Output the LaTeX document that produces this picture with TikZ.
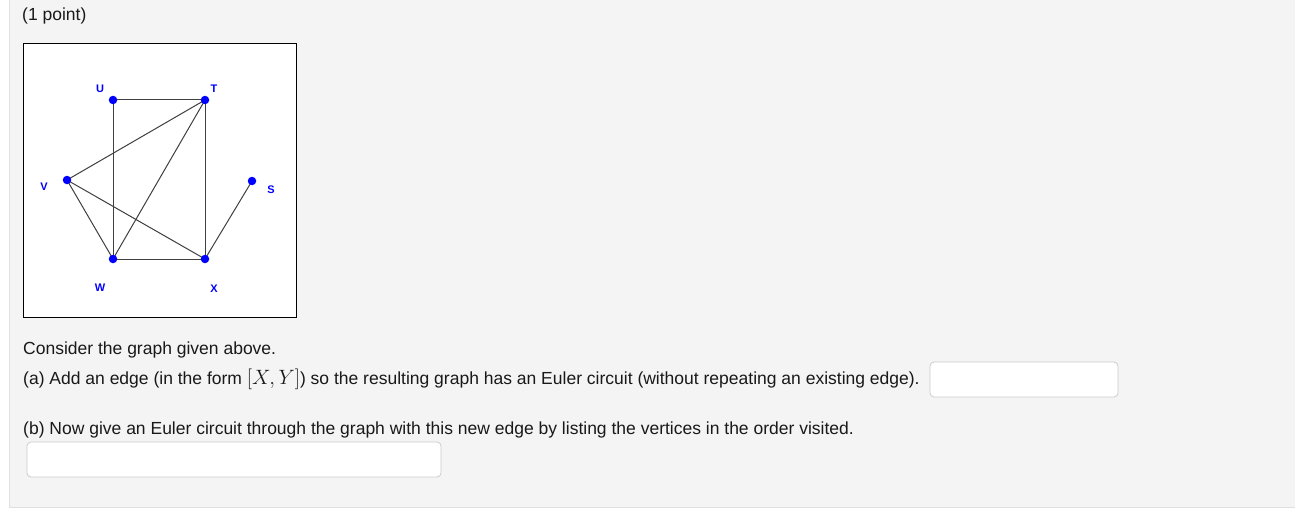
\documentclass[tikz,border=0pt]{standalone}
\usepackage{fontspec}
\setmainfont{Liberation Sans}
\begin{document}
\begin{tikzpicture}[x=1pt,y=-1pt,
  vtx/.style={circle,fill=blue,inner sep=0pt,minimum size=8.5pt},
  vlab/.style={text=blue,font=\fontsize{11}{12}\selectfont\bfseries,inner sep=0pt},
  edge/.style={draw=black!75,line width=1pt},
  txt/.style={anchor=base west,inner sep=0pt,font=\fontsize{17.5}{20}\selectfont,text=black!90},
  inbox/.style={draw=black!20,fill=white,rounded corners=4pt,line width=0.8pt}]
\useasboundingbox (0,0) rectangle (1295,516);
\fill[white] (0,0) rectangle (1295,516);
\fill[fill={rgb,255:red,244;green,244;blue,244}] (9,-2) rectangle (1297,507);
\draw[draw={rgb,255:red,224;green,224;blue,224},line width=0.8pt] (9,-2) -- (9,507) -- (1297,507);
% title
\node[txt] (pt) at (22,21) {(1 point)};
% graph frame
\draw[fill=white,draw=black,line width=1pt] (23.5,43.5) rectangle (296,317);
\coordinate (U) at (113,100);
\coordinate (T) at (205,100);
\coordinate (V) at (67,180);
\coordinate (S) at (252,181);
\coordinate (W) at (113,259);
\coordinate (X) at (205,259);
\draw[edge] (U) -- (T);
\draw[edge] (U) -- (W);
\draw[edge] (T) -- (X);
\draw[edge] (W) -- (X);
\draw[edge] (V) -- (T);
\draw[edge] (W) -- (T);
\draw[edge] (V) -- (W);
\draw[edge] (V) -- (X);
\draw[edge] (S) -- (X);
\foreach \n in {U,T,V,S,W,X}
  \node[vtx] (d\n) at (\n) {};
\node[vlab] (lU) at (100,89) {U};
\node[vlab] (lT) at (214,89) {T};
\node[vlab] (lV) at (44,187) {V};
\node[vlab] (lS) at (271,190) {S};
\node[vlab] (lW) at (100,288) {W};
\node[vlab] (lX) at (214,289) {X};
% text
\node[txt] (t1) at (23,354) {Consider the graph given above.};
\node[txt] (t2) at (23,384) {(a) Add an edge (in the form {\fontsize{20}{22}\selectfont$[X,Y]$}) so the resulting graph has an Euler circuit (without repeating an existing edge).};
\node[txt] (t3) at (23,434) {(b) Now give an Euler circuit through the graph with this new edge by listing the vertices in the order visited.};
\draw[inbox] (930,362) rectangle (1118,397);
\draw[inbox] (27,442) rectangle (441,477);
\end{tikzpicture}
\end{document}
